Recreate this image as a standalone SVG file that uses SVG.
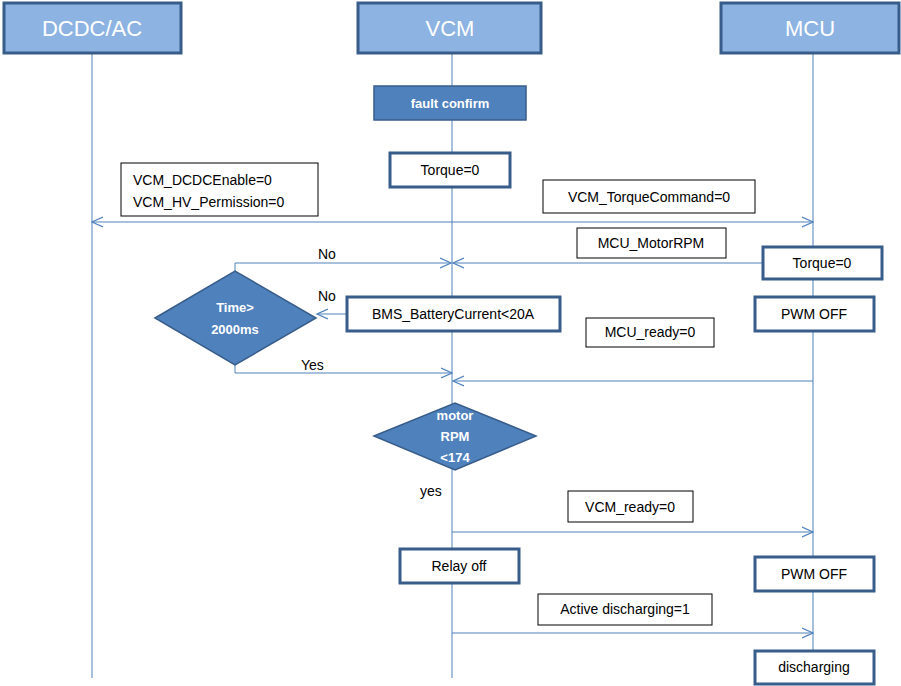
<svg xmlns="http://www.w3.org/2000/svg" width="901" height="686" viewBox="0 0 901 686">
<style>
text{font-family:"Liberation Sans",Arial,sans-serif;font-size:14px;fill:#000}
.hdr{fill:#8db3e2;stroke:#385d8a;stroke-width:3}
.hdr-t{font-size:22px;fill:#fff;text-anchor:middle}
.box{fill:#fff;stroke:#385d8a;stroke-width:3}
.lbl{fill:#fff;stroke:#000;stroke-width:1}
.dark{fill:#4f81bd;stroke:#385d8a;stroke-width:1.5}
.wt{fill:#fff;font-weight:bold;text-anchor:middle;font-size:13px}
.c{text-anchor:middle}
.ln{stroke:#4f81bd;stroke-width:1;fill:none}
</style>
<defs><marker id="a" markerWidth="12" markerHeight="12" refX="11" refY="6" orient="auto-start-reverse" markerUnits="userSpaceOnUse"><path d="M0,1 L11,6 L0,11" fill="none" stroke="#4f81bd" stroke-width="1.2"/></marker></defs>
<g id="lifelines" class="ln"><line x1="92" y1="53" x2="92" y2="678"/><line x1="452" y1="53" x2="452" y2="678"/><line x1="813" y1="53" x2="813" y2="651"/></g>
<g id="connectors" class="ln">
<line x1="92" y1="222" x2="813" y2="222" marker-start="url(#a)" marker-end="url(#a)"/>
<line x1="813" y1="263" x2="453" y2="263" marker-end="url(#a)"/>
<polyline points="235,271 235,263 451,263" marker-end="url(#a)"/>
<line x1="347" y1="314" x2="317" y2="314" marker-end="url(#a)"/>
<polyline points="235,365 235,373 452,373" marker-end="url(#a)"/>
<line x1="813" y1="381" x2="453" y2="381" marker-end="url(#a)"/>
<line x1="452" y1="532" x2="813" y2="532" marker-end="url(#a)"/>
<line x1="452" y1="633" x2="813" y2="633" marker-end="url(#a)"/>
</g>
<g id="h1"><rect class="hdr" x="4" y="3" width="177" height="50"/><text class="hdr-t" x="92" y="36">DCDC/AC</text></g>
<g id="h2"><rect class="hdr" x="358" y="3" width="183" height="50"/><text class="hdr-t" x="450" y="36">VCM</text></g>
<g id="h3"><rect class="hdr" x="721" y="3" width="178" height="50"/><text class="hdr-t" x="810" y="36">MCU</text></g>
<g id="fault"><rect class="dark" x="374" y="86" width="152" height="34"/><text class="wt" x="450" y="108">fault confirm</text></g>
<g id="t1"><rect class="box" x="390" y="153" width="120" height="34"/><text class="c" x="450" y="175">Torque=0</text></g>
<g id="l1"><rect class="lbl" x="121" y="163" width="197" height="53"/><text x="133" y="185">VCM_DCDCEnable=0</text><text x="133" y="207">VCM_HV_Permission=0</text></g>
<g id="l2"><rect class="lbl" x="543" y="180" width="212" height="33"/><text class="c" x="649" y="202">VCM_TorqueCommand=0</text></g>
<g id="l3"><rect class="lbl" x="577" y="228" width="149" height="30"/><text class="c" x="651" y="248">MCU_MotorRPM</text></g>
<g id="t2"><rect class="box" x="763" y="247" width="119" height="32"/><text class="c" x="822" y="268">Torque=0</text></g>
<g id="pwm1"><rect class="box" x="755" y="297" width="119" height="34"/><text class="c" x="814" y="319">PWM OFF</text></g>
<g id="bms"><rect class="box" x="347" y="297" width="213" height="34"/><text class="c" x="453" y="319">BMS_BatteryCurrent&lt;20A</text></g>
<g id="l4"><rect class="lbl" x="586" y="318" width="128" height="29"/><text class="c" x="650" y="337">MCU_ready=0</text></g>
<g id="d1"><polygon class="dark" points="155,318 235,271 316,318 235,365"/><text class="wt" x="235" y="312">Time&gt;</text><text class="wt" x="235" y="334">2000ms</text></g>
<g id="d2"><polygon class="dark" points="374,436 455,403 536,436 455,470"/><text class="wt" x="455" y="420">motor</text><text class="wt" x="455" y="441">RPM</text><text class="wt" x="455" y="462">&lt;174</text></g>
<g id="labels"><text x="318" y="259">No</text><text x="318" y="301">No</text><text x="301" y="370">Yes</text><text x="420" y="496">yes</text></g>
<g id="l5"><rect class="lbl" x="568" y="491" width="125" height="31"/><text class="c" x="630" y="512">VCM_ready=0</text></g>
<g id="relay"><rect class="box" x="400" y="549" width="119" height="34"/><text class="c" x="459" y="571">Relay off</text></g>
<g id="pwm2"><rect class="box" x="755" y="557" width="119" height="34"/><text class="c" x="814" y="579">PWM OFF</text></g>
<g id="l6"><rect class="lbl" x="538" y="594" width="174" height="31"/><text class="c" x="625" y="614">Active discharging=1</text></g>
<g id="dis"><rect class="box" x="755" y="651" width="119" height="33"/><text class="c" x="814" y="672">discharging</text></g>
</svg>
